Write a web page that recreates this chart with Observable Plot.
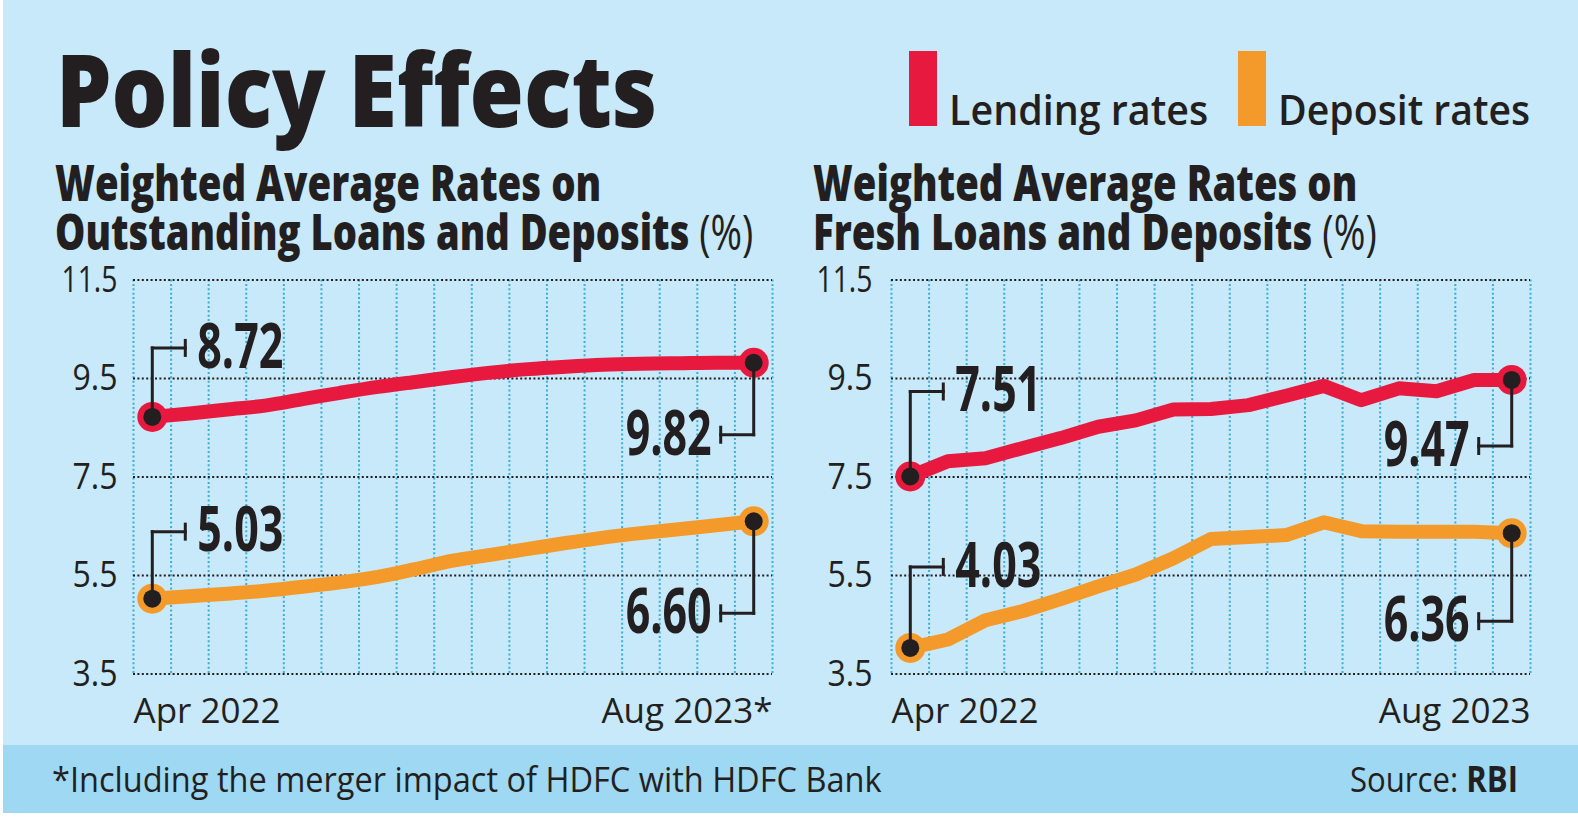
<!DOCTYPE html>
<html><head><meta charset="utf-8">
<script src="https://cdn.jsdelivr.net/npm/d3@7"></script>
<script src="https://cdn.jsdelivr.net/npm/@observablehq/plot@0.6"></script>
<style>
html,body{margin:0;padding:0;background:#fff;}
#root{position:relative;width:1578px;height:820px;overflow:hidden;background:#fff;font-family:"Open Sans",sans-serif;color:#231f20;}
#bg{position:absolute;left:3px;top:0;width:1575px;height:813px;background:#c7e9f9;}
#foot{position:absolute;left:3px;top:745px;width:1575px;height:68px;background:#9ed8f2;}
.t{position:absolute;white-space:nowrap;transform-origin:0 0;line-height:0.8;}
.ln{display:inline-block;transform-origin:0 0;}
.panel{position:absolute;top:255px;}
.sw{position:absolute;top:51px;width:28px;height:75px;}
</style></head><body>
<div id="root"><div id="bg"></div><div id="foot"></div></div>
<script>
// ---- data ----
const months = ["Apr 2022","May 2022","Jun 2022","Jul 2022","Aug 2022","Sep 2022","Oct 2022","Nov 2022","Dec 2022","Jan 2023","Feb 2023","Mar 2023","Apr 2023","May 2023","Jun 2023","Jul 2023","Aug 2023"];
const outstandingLending = [8.72, 8.79, 8.87, 8.95, 9.08, 9.21, 9.33, 9.43, 9.53, 9.62, 9.69, 9.74, 9.78, 9.80, 9.81, 9.82, 9.82];
const outstandingDeposit = [5.03, 5.08, 5.13, 5.19, 5.27, 5.36, 5.47, 5.63, 5.80, 5.92, 6.04, 6.16, 6.27, 6.36, 6.44, 6.52, 6.60];
const freshLending = [7.51, 7.82, 7.88, 8.09, 8.29, 8.52, 8.65, 8.87, 8.88, 8.96, 9.15, 9.35, 9.06, 9.30, 9.24, 9.47, 9.47];
const freshDeposit = [4.03, 4.20, 4.59, 4.78, 5.02, 5.28, 5.52, 5.85, 6.24, 6.28, 6.32, 6.58, 6.40, 6.39, 6.39, 6.39, 6.36];
const yTicks = [3.5, 5.5, 7.5, 9.5, 11.5];
const xEndLabels = ["Apr 2022", "Aug 2023*", "Apr 2022", "Aug 2023"];
const seriesNames = ["Lending rates", "Deposit rates"];

const RED = "#e8193f", ORANGE = "#f49a2a", INK = "#231f20";
const root = document.getElementById("root");
const PROBE = '<span style="display:inline-block;width:0;height:0"></span>';

function label(html, o) {
  const el = document.createElement("div");
  el.className = "t";
  el.style.fontSize = o.fs + "px";
  el.style.fontWeight = o.w || 400;
  el.style.left = "0px"; el.style.top = "0px";
  el.innerHTML = html + PROBE;
  root.appendChild(el);
  const base = el.lastChild.offsetTop;
  const w = el.offsetWidth;
  const k = o.width / w;
  const left = o.right != null ? o.right - o.width : o.left;
  el.style.left = left + "px";
  el.style.top = (o.baseline - base) + "px";
  el.style.transform = `scaleX(${k})`;
}

// multi-line block: one element, each line squeezed to its own width
function block(lines, o) {
  const el = document.createElement("div");
  el.className = "t";
  el.style.fontSize = o.fs + "px";
  el.style.fontWeight = o.w || 400;
  el.style.lineHeight = o.lh + "px";
  el.style.left = o.left + "px"; el.style.top = "0px";
  el.innerHTML = lines.map(l => `<div><span class="ln">${l.html}${PROBE}</span></div>`).join("");
  root.appendChild(el);
  const spans = el.querySelectorAll(".ln");
  const base = spans[0].lastChild.offsetTop;
  spans.forEach((s, j) => { s.style.transform = `scaleX(${lines[j].width / s.offsetWidth})`; });
  el.style.top = (o.baseline - base) + "px";
}

function panel(cfg) {
  const W = 789, H = 480, mt = 24.5, mb = 61.5;
  const pxu = (W - cfg.ml - cfg.mr) / months.length;
  const pyu = (H - mt - mb) / (yTicks[yTicks.length - 1] - yTicks[0]);
  const lend = months.map((m, i) => ({i, v: cfg.lend[i]}));
  const dep = months.map((m, i) => ({i, v: cfg.dep[i]}));
  const n = months.length - 1;
  const ann = [
    {i: 0, v: cfg.lend[0], off: cfg.off[0], dir: 1},
    {i: 0, v: cfg.dep[0], off: cfg.off[1], dir: 1},
    {i: n, v: cfg.lend[n], off: cfg.off[2], dir: -1},
    {i: n, v: cfg.dep[n], off: cfg.off[3], dir: -1}
  ].map(d => ({...d, ye: d.v - d.off / pyu, xt: d.i + d.dir * 33 / pxu, text: d.v.toFixed(2)}));
  const ends = (rows, color) => [rows[0], rows[n]].map(d => ({...d, color}));
  const endDots = [...ends(lend, RED), ...ends(dep, ORANGE)];
  const leader = {stroke: INK, strokeWidth: 3, strokeLinecap: "square"};
  const svg = Plot.plot({
    width: W, height: H,
    marginTop: mt, marginBottom: mb, marginLeft: cfg.ml, marginRight: cfg.mr,
    x: {domain: [-0.5, months.length - 0.5], axis: null},
    y: {domain: [yTicks[0], yTicks[yTicks.length - 1]], axis: null, label: null},
    style: {background: "transparent", fontFamily: "Open Sans", color: INK, overflow: "visible"},
    marks: [
      Plot.ruleX(d3.range(months.length + 1), {x: d => d - 0.5, stroke: "#3aaed8", strokeWidth: 2, strokeDasharray: "2 2.4"}),
      Plot.ruleY(yTicks, {stroke: INK, strokeWidth: 2, strokeDasharray: "2 2.4"}),
      Plot.axisY(yTicks, {tickSize: 0, tickPadding: cfg.tp, fontSize: 36, tickFormat: d => d.toFixed(1), fill: INK, label: null}),
      Plot.line(dep, {x: "i", y: "v", stroke: ORANGE, strokeWidth: 14, curve: cfg.curve, strokeLinejoin: "round", strokeLinecap: "round"}),
      Plot.line(lend, {x: "i", y: "v", stroke: RED, strokeWidth: 14, curve: cfg.curve, strokeLinejoin: "round", strokeLinecap: "round"}),
      Plot.dot(endDots, {x: "i", y: "v", r: 15, fill: "color"}),
      Plot.link(ann, {x1: "i", x2: "i", y1: "v", y2: "ye", ...leader}),
      Plot.link(ann, {x1: "i", x2: "xt", y1: "ye", y2: "ye", ...leader}),
      Plot.link(ann, {x1: "xt", x2: "xt", y1: d => d.ye + 7.5 / pyu, y2: d => d.ye - 7.5 / pyu, ...leader}),
      Plot.dot(endDots, {x: "i", y: "v", r: 9, fill: INK}),
      Plot.text(ann.filter(d => d.dir > 0), {x: "i", y: "ye", text: "text", dx: 45, textAnchor: "start", lineAnchor: "middle", fontSize: 62, fontWeight: 700, fill: INK}),
      Plot.text(ann.filter(d => d.dir < 0), {x: "i", y: "ye", text: "text", dx: -42, textAnchor: "end", lineAnchor: "middle", fontSize: 62, fontWeight: 700, fill: INK}),
      Plot.text([cfg.xl[0]], {frameAnchor: "bottom-left", textAnchor: "start", lineAnchor: "top", dy: 24.5, fontSize: 35, fill: INK}),
      Plot.text([cfg.xl[1]], {frameAnchor: "bottom-right", textAnchor: "end", lineAnchor: "top", dy: 24.5, fontSize: 35, fill: INK})
    ]
  });
  d3.select(svg).selectAll("text").each(function() {
    const t = this.textContent.trim();
    if (/^\d+\.\d$/.test(t)) {
      this.setAttribute("textLength", t.length > 3 ? 56 : 45);
      this.setAttribute("lengthAdjust", "spacingAndGlyphs");
    } else if (/^\d+\.\d\d$/.test(t)) {
      this.setAttribute("textLength", 86);
      this.setAttribute("lengthAdjust", "spacingAndGlyphs");
    }
  });
  const wrap = document.createElement("div");
  wrap.className = "panel";
  wrap.style.left = cfg.left + "px";
  wrap.appendChild(svg);
  root.appendChild(wrap);
}

panel({left: 0, ml: 133, mr: 17, tp: 16, lend: outstandingLending, dep: outstandingDeposit,
  curve: "monotone-x", off: [-69, -67, 72, 92], xl: xEndLabels.slice(0, 2)});
panel({left: 789, ml: 102, mr: 48, tp: 19, lend: freshLending, dep: freshDeposit,
  curve: "linear", off: [-85, -81, 66, 88], xl: xEndLabels.slice(2, 4)});

// headings, legend, footer
label("Policy Effects", {left: 56, baseline: 127, fs: 101, w: 800, width: 601});
block([
  {html: "Weighted Average Rates on", width: 546},
  {html: 'Outstanding Loans and Deposits <span style="font-weight:400">(%)</span>', width: 698}
], {left: 55, baseline: 201, fs: 49, w: 800, lh: 49});
block([
  {html: "Weighted Average Rates on", width: 544},
  {html: 'Fresh Loans and Deposits <span style="font-weight:400">(%)</span>', width: 564}
], {left: 813, baseline: 201, fs: 49, w: 800, lh: 49});
[[909, RED], [1238, ORANGE]].forEach(([x, c]) => {
  const s = document.createElement("div"); s.className = "sw"; s.style.left = x + "px"; s.style.background = c; root.appendChild(s);
});
label(seriesNames[0], {left: 949, baseline: 125, fs: 42, w: 600, width: 259});
label(seriesNames[1], {left: 1278, baseline: 125, fs: 42, w: 600, width: 252});
label("*Including the merger impact of HDFC with HDFC Bank", {left: 52, baseline: 792, fs: 35, width: 830});
label('Source: <b>RBI</b>', {right: 1518, baseline: 792, fs: 35, width: 168});
</script>
</body></html>
